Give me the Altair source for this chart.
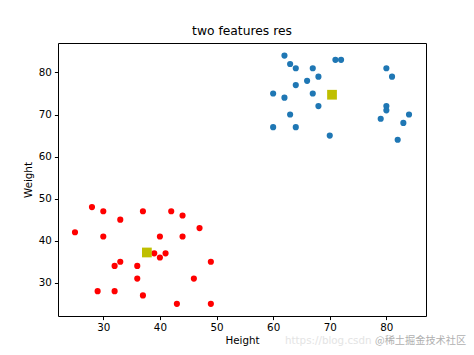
import altair as alt
import pandas as pd

# Cluster 1 (red)
red_height = [28, 30, 33, 37, 42, 44, 47, 25, 30, 40, 44, 39, 41, 40, 33, 32, 36, 49, 36, 46, 29, 32, 37, 43, 49]
red_weight = [48, 47, 45, 47, 47, 46, 43, 42, 41, 41, 41, 37, 37, 36, 35, 34, 34, 35, 31, 31, 28, 28, 27, 25, 25]

# Cluster 2 (blue)
blue_height = [62, 63, 64, 67, 71, 72, 68, 66, 64, 60, 62, 67, 68, 63, 60, 64, 70, 80, 81, 80, 80, 79, 84, 83, 82]
blue_weight = [84, 82, 81, 81, 83, 83, 79, 78, 77, 75, 74, 75, 72, 70, 67, 67, 65, 81, 79, 72, 71, 69, 70, 68, 64]

# Cluster centres
center_height = [37.7, 70.4]
center_weight = [37.2, 74.7]

x_ticks = [30, 40, 50, 60, 70, 80]
y_ticks = [30, 40, 50, 60, 70, 80]

red_df = pd.DataFrame({"Height": red_height, "Weight": red_weight})
blue_df = pd.DataFrame({"Height": blue_height, "Weight": blue_weight})
cen_df = pd.DataFrame({"Height": center_height, "Weight": center_weight})

FONT = "DejaVu Sans"

xs = alt.Scale(domain=[22.0, 87.0], nice=False, zero=False)
ys = alt.Scale(domain=[22.1, 87.0], nice=False, zero=False)

xax = alt.Axis(values=x_ticks, grid=False, domain=False, tickColor="black",
               tickSize=3.6, labelPadding=3, labelFontSize=10.3, labelFont=FONT,
               labelColor="black", title="Height", titleFont=FONT, titleFontSize=10.3,
               titleFontWeight="normal", titleColor="black", titlePadding=3)
yax = alt.Axis(values=y_ticks, grid=False, domain=False, tickColor="black",
               tickSize=3.6, labelPadding=3, labelFontSize=10.3, labelFont=FONT,
               labelColor="black", title="Weight", titleFont=FONT, titleFontSize=10.3,
               titleFontWeight="normal", titleColor="black", titlePadding=5)

def pts(df, color):
    return alt.Chart(df).mark_circle(size=38, color=color, opacity=1).encode(
        x=alt.X("Height:Q", scale=xs, axis=xax),
        y=alt.Y("Weight:Q", scale=ys, axis=yax),
    )

red = pts(red_df, "#ff0000")
blue = pts(blue_df, "#1f77b4")
cen = alt.Chart(cen_df).mark_square(size=95, color="#bfbf00", opacity=1).encode(
    x=alt.X("Height:Q", scale=xs, axis=xax),
    y=alt.Y("Weight:Q", scale=ys, axis=yax),
)

wm1 = alt.Chart(pd.DataFrame({"t": ["https://blog.csdn"]})).mark_text(
    font=FONT, fontSize=10.3, color="#e4e4e4", align="left", baseline="middle"
).encode(x=alt.value(227), y=alt.value(298), text="t:N")
wm2 = alt.Chart(pd.DataFrame({"t": ["@稀土掘金技术社区"]})).mark_text(
    font="Noto Sans CJK SC", fontSize=10.2, color="#b0b0b0", align="left", baseline="middle"
).encode(x=alt.value(317), y=alt.value(298), text="t:N")

chart = alt.layer(blue, red, cen, wm1, wm2).properties(
    width=368, height=273,
    title=alt.TitleParams("two features res", font=FONT, fontSize=12.3,
                          fontWeight="normal", color="black", offset=6),
    autosize=alt.AutoSizeParams(type="none"),
    padding={"left": 58, "top": 43, "right": 48, "bottom": 39},
    background="white",
).configure_view(stroke="black", strokeWidth=1)

chart.save("out.html", embed_options={"renderer": "svg", "actions": False})
